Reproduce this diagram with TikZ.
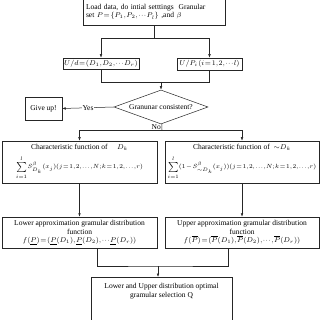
\documentclass[tikz,border=0pt]{standalone}
\usepackage{fontspec}
\setmainfont{Liberation Serif}
\usetikzlibrary{arrows.meta,shapes.geometric}

\newcommand{\tightmath}{\thinmuskip=1mu\medmuskip=1.5mu\thickmuskip=1.5mu}

\begin{document}
\begin{tikzpicture}[x=1pt,y=-1pt,
  font=\fontsize{7.5}{8.5}\selectfont\tightmath,
  box/.style={draw=black!85,line width=0.5pt,inner sep=1pt,align=center},
  link/.style={draw=black!85,line width=0.5pt},
  arr/.style={link,-{Latex[length=3.5pt,width=2.6pt]}}]
  \useasboundingbox[fill=white] (0,0) rectangle (320,320);

  % data and partitions
  \node[box,align=left,text width=136,minimum width=142,minimum height=26] (load) at (154,12)
    {Load data, do intial setttings\ \ Granular\\ set $P=\{P_1,P_2,\cdots P_l\}$ ,and $\beta$};
  \node[box,minimum width=76,minimum height=11] (ud) at (101,63.5) {$U/d=(D_1,D_2,\cdots D_r)$};
  \node[box,minimum width=65,minimum height=12] (up) at (209.5,64) {$U/P_i\,(i=1,2,\cdots l)$};

  % decision
  \node[draw=black!85,line width=0.5pt,diamond,aspect=2.76,minimum width=94,minimum height=34,inner sep=0pt] (cons) at (161,107) {Granunar consistent?};
  \node[box,minimum width=37,minimum height=23] (give) at (43.5,108.5) {Give up!};

  % characteristic functions
  \node[box,minimum width=155,minimum height=42] (charL) at (79.5,162)
    {Characteristic function of \quad $D_k$\\[4pt]
     {\fontsize{6.5}{7.5}\selectfont$\sum\limits_{i=1}^{l} S^{\beta}_{D_k}(x_j)(j=1,2,\ldots,N;k=1,2,\ldots,r)$}};
  \node[box,minimum width=154,minimum height=42] (charR) at (242,162)
    {Characteristic function of \ $\sim\! D_k$\\[4pt]
     {\fontsize{6.5}{7.5}\selectfont$\sum\limits_{i=1}^{l}(1-S^{\beta}_{\sim D_k}(x_j))(j=1,2,\ldots,N;k=1,2,\ldots,r)$}};

  % distribution functions
  \node[box,minimum width=155,minimum height=31] (lowL) at (79.5,232.5)
    {Lower approximation gramular distribution\\ function\\
     $f(\underline{P})=(\underline{P}(D_1),\underline{P}(D_2),\cdots \underline{P}(D_r))$};
  \node[box,minimum width=154,minimum height=31] (lowR) at (242,232.5)
    {Upper approximation gramular distribution\\ function\\
     $f(\overline{P})=(\overline{P}(D_1),\overline{P}(D_2),\cdots,\overline{P}(D_r))$};

  \node[box,anchor=north,minimum width=141,minimum height=46,
    label={[anchor=north,yshift=-3pt,align=center]north:{Lower and Upper distribution optimal\\gramular selection Q}}] (final) at (161.5,277) {};

  % connectors
  \coordinate (split1) at (154,38);
  \coordinate (merge) at (161,82);
  \coordinate (split2) at (162,130);
  \coordinate (join) at (158,266);

  \draw[link] (load) -- (split1);
  \draw[arr] (split1) -| (ud);
  \draw[arr] (split1) -| (up);
  \draw[link] (ud) |- (merge);
  \draw[link] (up) |- (merge);
  \draw[arr] (merge) -- (cons);
  \draw[arr] (cons.west) -- node[fill=white,inner sep=1pt]{Yes} (give.east);
  \draw[link] (cons) -- node[left=-2.5pt,pos=0.45]{No} (split2);
  \draw[arr] (split2) -| (charL);
  \draw[arr] (split2) -| (charR);
  \draw[arr] (charL) -- (lowL);
  \draw[arr] (charR) -- (lowR);
  \draw[link] ([xshift=18pt]lowL.south) |- (join) -| ([xshift=-14pt]lowR.south);
  \draw[arr] (join) -- (join |- final.north);
\end{tikzpicture}
\end{document}
